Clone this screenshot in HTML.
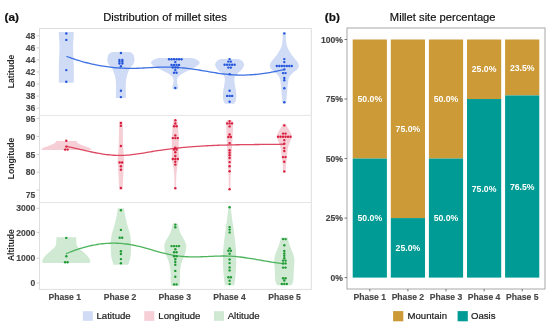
<!DOCTYPE html>
<html><head><meta charset="utf-8"><style>
html,body{margin:0;padding:0;background:#fff;width:550px;height:329px;overflow:hidden}
svg{display:block}
text{font-family:"Liberation Sans",Arial,sans-serif}
</style></head><body>
<svg width="550" height="329" viewBox="0 0 550 329">
<rect width="550" height="329" fill="#fff"/>
<g fill="#111" stroke="#111" stroke-width="0.2">
<text x="4.6" y="20.7" font-size="11.8" font-weight="700">(a)</text>
<text x="165" y="20.8" font-size="11.2" text-anchor="middle">Distribution of millet sites</text>
<text x="324.8" y="20.7" font-size="11.8" font-weight="700">(b)</text>
<text x="442.7" y="20.8" font-size="11.2" text-anchor="middle">Millet site percentage</text>
</g>
<g fill="#d0dbf6"><path d="M73.60,32.00 L73.73,32.50 L73.80,33.00 L73.80,33.50 L73.78,34.00 L73.77,34.50 L73.75,35.00 L73.72,35.50 L73.70,36.00 L73.67,36.50 L73.64,37.00 L73.60,37.50 L73.56,38.00 L73.51,38.50 L73.47,39.00 L73.43,39.50 L73.40,40.00 L73.37,40.50 L73.34,41.00 L73.30,41.50 L73.27,42.00 L73.24,42.50 L73.21,43.00 L73.18,43.50 L73.16,44.00 L73.14,44.50 L73.12,45.00 L73.11,45.50 L73.10,46.00 L73.10,46.50 L73.10,47.00 L73.11,47.50 L73.11,48.00 L73.12,48.50 L73.13,49.00 L73.14,49.50 L73.15,50.00 L73.16,50.50 L73.17,51.00 L73.19,51.50 L73.20,52.00 L73.22,52.50 L73.23,53.00 L73.26,53.50 L73.28,54.00 L73.31,54.50 L73.34,55.00 L73.37,55.50 L73.40,56.00 L73.43,56.50 L73.46,57.00 L73.48,57.50 L73.50,58.00 L73.52,58.50 L73.54,59.00 L73.55,59.50 L73.57,60.00 L73.59,60.50 L73.60,61.00 L73.62,61.50 L73.63,62.00 L73.65,62.50 L73.66,63.00 L73.67,63.50 L73.68,64.00 L73.69,64.50 L73.70,65.00 L73.71,65.50 L73.72,66.00 L73.72,66.50 L73.73,67.00 L73.74,67.50 L73.74,68.00 L73.75,68.50 L73.76,69.00 L73.76,69.50 L73.77,70.00 L73.77,70.50 L73.78,71.00 L73.78,71.50 L73.79,72.00 L73.79,72.50 L73.79,73.00 L73.80,73.50 L73.80,74.00 L73.80,74.50 L73.80,75.00 L73.80,75.50 L73.80,76.00 L73.80,76.50 L73.80,77.00 L73.80,77.50 L73.80,78.00 L73.80,78.50 L73.80,79.00 L73.80,79.50 L73.80,80.00 L73.80,80.50 L73.80,81.00 L73.80,81.50 L73.72,82.00 L73.56,82.50 L73.50,82.70 L59.10,82.70 L59.04,82.50 L58.88,82.00 L58.80,81.50 L58.80,81.00 L58.80,80.50 L58.80,80.00 L58.80,79.50 L58.80,79.00 L58.80,78.50 L58.80,78.00 L58.80,77.50 L58.80,77.00 L58.80,76.50 L58.80,76.00 L58.80,75.50 L58.80,75.00 L58.80,74.50 L58.80,74.00 L58.80,73.50 L58.81,73.00 L58.81,72.50 L58.81,72.00 L58.82,71.50 L58.82,71.00 L58.83,70.50 L58.83,70.00 L58.84,69.50 L58.84,69.00 L58.85,68.50 L58.86,68.00 L58.86,67.50 L58.87,67.00 L58.88,66.50 L58.88,66.00 L58.89,65.50 L58.90,65.00 L58.91,64.50 L58.92,64.00 L58.93,63.50 L58.94,63.00 L58.95,62.50 L58.97,62.00 L58.98,61.50 L59.00,61.00 L59.01,60.50 L59.03,60.00 L59.05,59.50 L59.06,59.00 L59.08,58.50 L59.10,58.00 L59.12,57.50 L59.14,57.00 L59.17,56.50 L59.20,56.00 L59.23,55.50 L59.26,55.00 L59.29,54.50 L59.32,54.00 L59.34,53.50 L59.37,53.00 L59.38,52.50 L59.40,52.00 L59.41,51.50 L59.43,51.00 L59.44,50.50 L59.45,50.00 L59.46,49.50 L59.47,49.00 L59.48,48.50 L59.49,48.00 L59.49,47.50 L59.50,47.00 L59.50,46.50 L59.50,46.00 L59.49,45.50 L59.48,45.00 L59.46,44.50 L59.44,44.00 L59.42,43.50 L59.39,43.00 L59.36,42.50 L59.33,42.00 L59.30,41.50 L59.26,41.00 L59.23,40.50 L59.20,40.00 L59.17,39.50 L59.13,39.00 L59.09,38.50 L59.04,38.00 L59.00,37.50 L58.96,37.00 L58.93,36.50 L58.90,36.00 L58.88,35.50 L58.85,35.00 L58.83,34.50 L58.82,34.00 L58.80,33.50 L58.80,33.00 L58.87,32.50 L59.00,32.00 Z"/><path d="M129.70,52.10 L130.84,52.60 L131.66,53.10 L132.31,53.60 L132.78,54.10 L133.17,54.60 L133.50,55.10 L133.76,55.60 L133.93,56.10 L134.05,56.60 L134.16,57.10 L134.27,57.60 L134.35,58.10 L134.42,58.60 L134.47,59.10 L134.50,59.60 L134.50,60.10 L134.46,60.60 L134.38,61.10 L134.28,61.60 L134.16,62.10 L134.02,62.60 L133.87,63.10 L133.66,63.60 L133.39,64.10 L133.07,64.60 L132.73,65.10 L132.28,65.60 L131.78,66.10 L131.31,66.60 L130.89,67.10 L130.48,67.60 L130.13,68.10 L129.83,68.60 L129.55,69.10 L129.29,69.60 L129.05,70.10 L128.83,70.60 L128.62,71.10 L128.42,71.60 L128.23,72.10 L128.04,72.60 L127.86,73.10 L127.69,73.60 L127.52,74.10 L127.36,74.60 L127.20,75.10 L127.06,75.60 L126.92,76.10 L126.80,76.60 L126.68,77.10 L126.57,77.60 L126.46,78.10 L126.36,78.60 L126.26,79.10 L126.18,79.60 L126.12,80.10 L126.07,80.60 L126.02,81.10 L125.98,81.60 L125.94,82.10 L125.90,82.60 L125.86,83.10 L125.84,83.60 L125.82,84.10 L125.80,84.60 L125.80,85.10 L125.80,85.60 L125.80,86.10 L125.80,86.60 L125.80,87.10 L125.80,87.60 L125.80,88.10 L125.80,88.60 L125.80,89.10 L125.80,89.60 L125.80,90.10 L125.80,90.60 L125.80,91.10 L125.81,91.60 L125.82,92.10 L125.84,92.60 L125.86,93.10 L125.88,93.60 L125.89,94.10 L125.90,94.60 L125.90,95.10 L125.90,95.60 L125.90,96.10 L125.90,96.60 L125.90,97.10 L125.90,97.60 L125.90,97.90 L115.90,97.90 L115.90,97.60 L115.90,97.10 L115.90,96.60 L115.90,96.10 L115.90,95.60 L115.90,95.10 L115.90,94.60 L115.91,94.10 L115.92,93.60 L115.94,93.10 L115.96,92.60 L115.98,92.10 L115.99,91.60 L116.00,91.10 L116.00,90.60 L116.00,90.10 L116.00,89.60 L116.00,89.10 L116.00,88.60 L116.00,88.10 L116.00,87.60 L116.00,87.10 L116.00,86.60 L116.00,86.10 L116.00,85.60 L116.00,85.10 L116.00,84.60 L115.98,84.10 L115.96,83.60 L115.94,83.10 L115.90,82.60 L115.86,82.10 L115.82,81.60 L115.78,81.10 L115.73,80.60 L115.68,80.10 L115.62,79.60 L115.54,79.10 L115.44,78.60 L115.34,78.10 L115.23,77.60 L115.12,77.10 L115.00,76.60 L114.88,76.10 L114.74,75.60 L114.60,75.10 L114.44,74.60 L114.28,74.10 L114.11,73.60 L113.94,73.10 L113.76,72.60 L113.57,72.10 L113.38,71.60 L113.18,71.10 L112.97,70.60 L112.75,70.10 L112.51,69.60 L112.25,69.10 L111.97,68.60 L111.67,68.10 L111.32,67.60 L110.91,67.10 L110.49,66.60 L110.02,66.10 L109.52,65.60 L109.07,65.10 L108.73,64.60 L108.41,64.10 L108.14,63.60 L107.93,63.10 L107.78,62.60 L107.64,62.10 L107.52,61.60 L107.42,61.10 L107.34,60.60 L107.30,60.10 L107.30,59.60 L107.33,59.10 L107.38,58.60 L107.45,58.10 L107.53,57.60 L107.64,57.10 L107.75,56.60 L107.87,56.10 L108.04,55.60 L108.30,55.10 L108.63,54.60 L109.02,54.10 L109.49,53.60 L110.14,53.10 L110.96,52.60 L112.10,52.10 Z"/><path d="M192.30,58.00 L193.94,58.50 L195.30,59.00 L196.43,59.50 L197.39,60.00 L198.10,60.50 L198.63,61.00 L199.11,61.50 L199.48,62.00 L199.68,62.50 L199.66,63.00 L199.43,63.50 L199.05,64.00 L198.58,64.50 L198.10,65.00 L197.55,65.50 L196.86,66.00 L196.07,66.50 L195.22,67.00 L194.33,67.50 L193.44,68.00 L192.46,68.50 L191.41,69.00 L190.34,69.50 L189.30,70.00 L188.28,70.50 L187.26,71.00 L186.25,71.50 L185.26,72.00 L184.30,72.50 L183.36,73.00 L182.44,73.50 L181.60,74.00 L180.88,74.50 L180.22,75.00 L179.63,75.50 L179.10,76.00 L178.59,76.50 L178.14,77.00 L177.80,77.50 L177.54,78.00 L177.30,78.50 L177.15,79.00 L177.10,79.50 L177.10,80.00 L177.10,80.50 L177.10,81.00 L177.10,81.50 L177.10,82.00 L177.14,82.50 L177.24,83.00 L177.37,83.50 L177.50,84.00 L177.64,84.50 L177.81,85.00 L177.98,85.50 L178.10,86.00 L178.20,86.50 L178.28,87.00 L178.30,87.50 L178.23,88.00 L178.10,88.50 L177.84,89.00 L177.70,89.20 L172.90,89.20 L172.76,89.00 L172.50,88.50 L172.37,88.00 L172.30,87.50 L172.32,87.00 L172.40,86.50 L172.50,86.00 L172.62,85.50 L172.79,85.00 L172.96,84.50 L173.10,84.00 L173.23,83.50 L173.36,83.00 L173.46,82.50 L173.50,82.00 L173.50,81.50 L173.50,81.00 L173.50,80.50 L173.50,80.00 L173.50,79.50 L173.45,79.00 L173.30,78.50 L173.06,78.00 L172.80,77.50 L172.46,77.00 L172.01,76.50 L171.50,76.00 L170.97,75.50 L170.38,75.00 L169.72,74.50 L169.00,74.00 L168.16,73.50 L167.24,73.00 L166.30,72.50 L165.34,72.00 L164.35,71.50 L163.34,71.00 L162.32,70.50 L161.30,70.00 L160.26,69.50 L159.19,69.00 L158.14,68.50 L157.16,68.00 L156.27,67.50 L155.38,67.00 L154.53,66.50 L153.74,66.00 L153.05,65.50 L152.50,65.00 L152.02,64.50 L151.55,64.00 L151.17,63.50 L150.94,63.00 L150.92,62.50 L151.12,62.00 L151.49,61.50 L151.97,61.00 L152.50,60.50 L153.21,60.00 L154.17,59.50 L155.30,59.00 L156.66,58.50 L158.30,58.00 Z"/><path d="M238.10,59.10 L239.66,59.60 L240.78,60.10 L241.58,60.60 L242.21,61.10 L242.68,61.60 L243.08,62.10 L243.42,62.60 L243.68,63.10 L243.82,63.60 L243.91,64.10 L243.98,64.60 L244.00,65.10 L243.95,65.60 L243.81,66.10 L243.61,66.60 L243.38,67.10 L243.15,67.60 L242.88,68.10 L242.55,68.60 L242.17,69.10 L241.77,69.60 L241.33,70.10 L240.83,70.60 L240.29,71.10 L239.70,71.60 L239.08,72.10 L238.48,72.60 L237.89,73.10 L237.32,73.60 L236.80,74.10 L236.33,74.60 L235.89,75.10 L235.53,75.60 L235.22,76.10 L234.95,76.60 L234.77,77.10 L234.63,77.60 L234.50,78.10 L234.41,78.60 L234.35,79.10 L234.35,79.60 L234.37,80.10 L234.40,80.60 L234.43,81.10 L234.47,81.60 L234.51,82.10 L234.56,82.60 L234.62,83.10 L234.68,83.60 L234.76,84.10 L234.84,84.60 L234.92,85.10 L235.00,85.60 L235.08,86.10 L235.18,86.60 L235.27,87.10 L235.38,87.60 L235.48,88.10 L235.57,88.60 L235.66,89.10 L235.74,89.60 L235.81,90.10 L235.88,90.60 L235.95,91.10 L236.01,91.60 L236.08,92.10 L236.14,92.60 L236.19,93.10 L236.24,93.60 L236.27,94.10 L236.29,94.60 L236.30,95.10 L236.30,95.60 L236.28,96.10 L236.27,96.60 L236.24,97.10 L236.21,97.60 L236.17,98.10 L236.13,98.60 L236.09,99.10 L236.02,99.60 L235.92,100.10 L235.79,100.60 L235.64,101.10 L235.46,101.60 L235.22,102.10 L234.90,102.60 L234.52,103.10 L234.02,103.60 L233.80,103.80 L225.40,103.80 L225.18,103.60 L224.68,103.10 L224.30,102.60 L223.98,102.10 L223.74,101.60 L223.56,101.10 L223.41,100.60 L223.28,100.10 L223.18,99.60 L223.11,99.10 L223.07,98.60 L223.03,98.10 L222.99,97.60 L222.96,97.10 L222.93,96.60 L222.92,96.10 L222.90,95.60 L222.90,95.10 L222.91,94.60 L222.93,94.10 L222.96,93.60 L223.01,93.10 L223.06,92.60 L223.12,92.10 L223.19,91.60 L223.25,91.10 L223.32,90.60 L223.39,90.10 L223.46,89.60 L223.54,89.10 L223.63,88.60 L223.72,88.10 L223.82,87.60 L223.93,87.10 L224.02,86.60 L224.12,86.10 L224.20,85.60 L224.28,85.10 L224.36,84.60 L224.44,84.10 L224.52,83.60 L224.58,83.10 L224.64,82.60 L224.69,82.10 L224.73,81.60 L224.77,81.10 L224.80,80.60 L224.83,80.10 L224.85,79.60 L224.85,79.10 L224.79,78.60 L224.70,78.10 L224.57,77.60 L224.43,77.10 L224.25,76.60 L223.98,76.10 L223.67,75.60 L223.31,75.10 L222.87,74.60 L222.40,74.10 L221.88,73.60 L221.31,73.10 L220.72,72.60 L220.12,72.10 L219.50,71.60 L218.91,71.10 L218.37,70.60 L217.87,70.10 L217.43,69.60 L217.03,69.10 L216.65,68.60 L216.32,68.10 L216.05,67.60 L215.82,67.10 L215.59,66.60 L215.39,66.10 L215.25,65.60 L215.20,65.10 L215.22,64.60 L215.29,64.10 L215.38,63.60 L215.52,63.10 L215.78,62.60 L216.12,62.10 L216.52,61.60 L216.99,61.10 L217.62,60.60 L218.42,60.10 L219.54,59.60 L221.10,59.10 Z"/><path d="M286.10,32.40 L286.05,32.90 L286.01,33.40 L285.98,33.90 L285.95,34.40 L285.92,34.90 L285.91,35.40 L285.90,35.90 L285.90,36.40 L285.91,36.90 L285.92,37.40 L285.94,37.90 L285.96,38.40 L285.99,38.90 L286.02,39.40 L286.06,39.90 L286.10,40.40 L286.14,40.90 L286.19,41.40 L286.23,41.90 L286.28,42.40 L286.33,42.90 L286.40,43.40 L286.49,43.90 L286.60,44.40 L286.71,44.90 L286.84,45.40 L286.97,45.90 L287.12,46.40 L287.30,46.90 L287.50,47.40 L287.73,47.90 L287.96,48.40 L288.20,48.90 L288.46,49.40 L288.74,49.90 L289.03,50.40 L289.34,50.90 L289.64,51.40 L289.94,51.90 L290.24,52.40 L290.55,52.90 L290.87,53.40 L291.19,53.90 L291.52,54.40 L291.87,54.90 L292.23,55.40 L292.62,55.90 L293.01,56.40 L293.41,56.90 L293.81,57.40 L294.22,57.90 L294.63,58.40 L295.06,58.90 L295.50,59.40 L295.94,59.90 L296.35,60.40 L296.73,60.90 L297.08,61.40 L297.43,61.90 L297.76,62.40 L298.05,62.90 L298.27,63.40 L298.43,63.90 L298.59,64.40 L298.71,64.90 L298.79,65.40 L298.79,65.90 L298.71,66.40 L298.56,66.90 L298.37,67.40 L298.15,67.90 L297.87,68.40 L297.47,68.90 L296.99,69.40 L296.46,69.90 L295.91,70.40 L295.33,70.90 L294.67,71.40 L293.98,71.90 L293.30,72.40 L292.71,72.90 L292.19,73.40 L291.69,73.90 L291.20,74.40 L290.75,74.90 L290.33,75.40 L289.97,75.90 L289.65,76.40 L289.41,76.90 L289.19,77.40 L288.99,77.90 L288.82,78.40 L288.66,78.90 L288.53,79.40 L288.42,79.90 L288.33,80.40 L288.24,80.90 L288.16,81.40 L288.09,81.90 L288.03,82.40 L287.96,82.90 L287.91,83.40 L287.85,83.90 L287.80,84.40 L287.75,84.90 L287.70,85.40 L287.65,85.90 L287.60,86.40 L287.55,86.90 L287.50,87.40 L287.45,87.90 L287.41,88.40 L287.36,88.90 L287.32,89.40 L287.27,89.90 L287.23,90.40 L287.19,90.90 L287.15,91.40 L287.11,91.90 L287.07,92.40 L287.03,92.90 L287.00,93.40 L286.97,93.90 L286.93,94.40 L286.90,94.90 L286.86,95.40 L286.82,95.90 L286.77,96.40 L286.71,96.90 L286.64,97.40 L286.57,97.90 L286.49,98.40 L286.42,98.90 L286.36,99.40 L286.31,99.90 L286.27,100.40 L286.23,100.90 L286.20,101.40 L286.17,101.90 L286.14,102.40 L286.12,102.90 L286.10,103.40 L282.50,103.40 L282.48,102.90 L282.46,102.40 L282.43,101.90 L282.40,101.40 L282.37,100.90 L282.33,100.40 L282.29,99.90 L282.24,99.40 L282.18,98.90 L282.11,98.40 L282.03,97.90 L281.96,97.40 L281.89,96.90 L281.83,96.40 L281.78,95.90 L281.74,95.40 L281.70,94.90 L281.67,94.40 L281.63,93.90 L281.60,93.40 L281.57,92.90 L281.53,92.40 L281.49,91.90 L281.45,91.40 L281.41,90.90 L281.37,90.40 L281.33,89.90 L281.28,89.40 L281.24,88.90 L281.19,88.40 L281.15,87.90 L281.10,87.40 L281.05,86.90 L281.00,86.40 L280.95,85.90 L280.90,85.40 L280.85,84.90 L280.80,84.40 L280.75,83.90 L280.69,83.40 L280.64,82.90 L280.57,82.40 L280.51,81.90 L280.44,81.40 L280.36,80.90 L280.27,80.40 L280.18,79.90 L280.07,79.40 L279.94,78.90 L279.78,78.40 L279.61,77.90 L279.41,77.40 L279.19,76.90 L278.95,76.40 L278.63,75.90 L278.27,75.40 L277.85,74.90 L277.40,74.40 L276.91,73.90 L276.41,73.40 L275.89,72.90 L275.30,72.40 L274.62,71.90 L273.93,71.40 L273.27,70.90 L272.69,70.40 L272.14,69.90 L271.61,69.40 L271.13,68.90 L270.73,68.40 L270.45,67.90 L270.23,67.40 L270.04,66.90 L269.89,66.40 L269.81,65.90 L269.81,65.40 L269.89,64.90 L270.01,64.40 L270.17,63.90 L270.33,63.40 L270.55,62.90 L270.84,62.40 L271.17,61.90 L271.52,61.40 L271.87,60.90 L272.25,60.40 L272.66,59.90 L273.10,59.40 L273.54,58.90 L273.97,58.40 L274.38,57.90 L274.79,57.40 L275.19,56.90 L275.59,56.40 L275.98,55.90 L276.37,55.40 L276.73,54.90 L277.08,54.40 L277.41,53.90 L277.73,53.40 L278.05,52.90 L278.36,52.40 L278.66,51.90 L278.96,51.40 L279.26,50.90 L279.57,50.40 L279.86,49.90 L280.14,49.40 L280.40,48.90 L280.64,48.40 L280.87,47.90 L281.10,47.40 L281.30,46.90 L281.48,46.40 L281.63,45.90 L281.76,45.40 L281.89,44.90 L282.00,44.40 L282.11,43.90 L282.20,43.40 L282.27,42.90 L282.32,42.40 L282.37,41.90 L282.41,41.40 L282.46,40.90 L282.50,40.40 L282.54,39.90 L282.58,39.40 L282.61,38.90 L282.64,38.40 L282.66,37.90 L282.68,37.40 L282.69,36.90 L282.70,36.40 L282.70,35.90 L282.69,35.40 L282.68,34.90 L282.65,34.40 L282.62,33.90 L282.59,33.40 L282.55,32.90 L282.50,32.40 Z"/></g>
<path d="M66.50,56.32 L68.33,57.01 L70.16,57.68 L71.99,58.32 L73.82,58.95 L75.65,59.56 L77.48,60.14 L79.31,60.70 L81.14,61.25 L82.97,61.77 L84.80,62.27 L86.63,62.75 L88.46,63.21 L90.29,63.65 L92.12,64.07 L93.95,64.47 L95.78,64.85 L97.61,65.21 L99.44,65.55 L101.27,65.87 L103.11,66.17 L104.94,66.46 L106.77,66.72 L108.60,66.96 L110.43,67.18 L112.26,67.38 L114.09,67.57 L115.92,67.73 L117.75,67.88 L119.58,68.01 L121.41,68.11 L123.24,68.20 L125.07,68.27 L126.90,68.32 L128.73,68.36 L130.56,68.37 L132.39,68.37 L134.22,68.35 L136.05,68.31 L137.88,68.25 L139.71,68.18 L141.54,68.10 L143.37,68.00 L145.20,67.91 L147.03,67.80 L148.86,67.70 L150.69,67.60 L152.52,67.50 L154.35,67.41 L156.18,67.33 L158.01,67.26 L159.84,67.20 L161.67,67.16 L163.50,67.14 L165.33,67.13 L167.16,67.15 L168.99,67.17 L170.82,67.22 L172.65,67.28 L174.48,67.36 L176.32,67.46 L178.15,67.58 L179.98,67.71 L181.81,67.86 L183.64,68.02 L185.47,68.21 L187.30,68.41 L189.13,68.63 L190.96,68.86 L192.79,69.11 L194.62,69.38 L196.45,69.66 L198.28,69.95 L200.11,70.25 L201.94,70.55 L203.77,70.86 L205.60,71.17 L207.43,71.48 L209.26,71.80 L211.09,72.10 L212.92,72.41 L214.75,72.70 L216.58,72.99 L218.41,73.27 L220.24,73.53 L222.07,73.78 L223.90,74.01 L225.73,74.22 L227.56,74.42 L229.39,74.59 L231.22,74.73 L233.05,74.85 L234.88,74.95 L236.71,75.02 L238.54,75.07 L240.37,75.10 L242.20,75.10 L244.03,75.08 L245.86,75.03 L247.69,74.97 L249.53,74.88 L251.36,74.77 L253.19,74.64 L255.02,74.49 L256.85,74.31 L258.68,74.12 L260.51,73.90 L262.34,73.67 L264.17,73.42 L266.00,73.14 L267.83,72.85 L269.66,72.54 L271.49,72.21 L273.32,71.86 L275.15,71.49 L276.98,71.10 L278.81,70.70 L280.64,70.28 L282.47,69.84 L284.30,69.39" fill="none" stroke="#3d70e2" stroke-width="1.3"/>
<g fill="#2456dc"><circle cx="66.30" cy="33.50" r="1.2"/><circle cx="66.30" cy="39.90" r="1.2"/><circle cx="66.30" cy="70.10" r="1.2"/><circle cx="66.30" cy="81.70" r="1.2"/></g><g fill="#2456dc"><circle cx="120.90" cy="53.00" r="1.2"/><circle cx="119.45" cy="59.90" r="1.2"/><circle cx="122.35" cy="59.90" r="1.2"/><circle cx="119.45" cy="61.75" r="1.2"/><circle cx="122.35" cy="61.75" r="1.2"/><circle cx="119.45" cy="63.60" r="1.2"/><circle cx="122.35" cy="63.60" r="1.2"/><circle cx="120.90" cy="66.30" r="1.2"/><circle cx="120.90" cy="90.70" r="1.2"/><circle cx="120.90" cy="97.10" r="1.2"/></g><g fill="#2456dc"><circle cx="169.05" cy="59.20" r="1.2"/><circle cx="171.55" cy="59.20" r="1.2"/><circle cx="174.05" cy="59.20" r="1.2"/><circle cx="176.55" cy="59.20" r="1.2"/><circle cx="179.05" cy="59.20" r="1.2"/><circle cx="181.55" cy="59.20" r="1.2"/><circle cx="175.30" cy="62.10" r="1.2"/><circle cx="171.55" cy="65.00" r="1.2"/><circle cx="174.05" cy="65.00" r="1.2"/><circle cx="176.55" cy="65.00" r="1.2"/><circle cx="179.05" cy="65.00" r="1.2"/><circle cx="172.80" cy="67.50" r="1.2"/><circle cx="175.30" cy="67.50" r="1.2"/><circle cx="177.80" cy="67.50" r="1.2"/><circle cx="175.30" cy="70.10" r="1.2"/><circle cx="174.05" cy="72.70" r="1.2"/><circle cx="176.55" cy="72.70" r="1.2"/><circle cx="175.30" cy="88.00" r="1.2"/></g><g fill="#2456dc"><circle cx="229.60" cy="59.10" r="1.2"/><circle cx="228.35" cy="61.60" r="1.2"/><circle cx="230.85" cy="61.60" r="1.2"/><circle cx="224.60" cy="64.70" r="1.2"/><circle cx="227.10" cy="64.70" r="1.2"/><circle cx="229.60" cy="64.70" r="1.2"/><circle cx="232.10" cy="64.70" r="1.2"/><circle cx="234.60" cy="64.70" r="1.2"/><circle cx="228.35" cy="67.60" r="1.2"/><circle cx="230.85" cy="67.60" r="1.2"/><circle cx="229.60" cy="74.10" r="1.2"/><circle cx="229.60" cy="90.70" r="1.2"/><circle cx="227.10" cy="95.90" r="1.2"/><circle cx="229.60" cy="95.90" r="1.2"/><circle cx="232.10" cy="95.90" r="1.2"/><circle cx="229.60" cy="101.70" r="1.2"/></g><g fill="#2456dc"><circle cx="284.30" cy="33.40" r="1.2"/><circle cx="284.30" cy="59.10" r="1.2"/><circle cx="284.30" cy="62.10" r="1.2"/><circle cx="276.80" cy="66.00" r="1.2"/><circle cx="279.30" cy="66.00" r="1.2"/><circle cx="281.80" cy="66.00" r="1.2"/><circle cx="284.30" cy="66.00" r="1.2"/><circle cx="286.80" cy="66.00" r="1.2"/><circle cx="289.30" cy="66.00" r="1.2"/><circle cx="291.80" cy="66.00" r="1.2"/><circle cx="284.30" cy="69.40" r="1.2"/><circle cx="283.05" cy="73.10" r="1.2"/><circle cx="285.55" cy="73.10" r="1.2"/><circle cx="284.30" cy="77.90" r="1.2"/><circle cx="284.30" cy="80.30" r="1.2"/><circle cx="284.30" cy="88.30" r="1.2"/><circle cx="284.30" cy="102.20" r="1.2"/></g>
<g fill="#f6ced5"><path d="M76.60,140.90 L76.69,141.40 L76.92,141.90 L77.23,142.40 L77.71,142.90 L78.52,143.40 L79.52,143.90 L80.59,144.40 L81.69,144.90 L82.94,145.40 L84.26,145.90 L85.55,146.40 L86.89,146.90 L88.38,147.40 L89.71,147.90 L90.53,148.40 L90.81,148.90 L91.01,149.40 L91.10,149.90 L91.10,150.00 L41.50,150.00 L41.50,149.90 L41.59,149.40 L41.79,148.90 L42.07,148.40 L42.89,147.90 L44.22,147.40 L45.71,146.90 L47.05,146.40 L48.34,145.90 L49.66,145.40 L50.91,144.90 L52.01,144.40 L53.08,143.90 L54.08,143.40 L54.89,142.90 L55.37,142.40 L55.68,141.90 L55.91,141.40 L56.00,140.90 Z"/><path d="M122.40,121.60 L122.45,122.10 L122.51,122.60 L122.56,123.10 L122.61,123.60 L122.65,124.10 L122.68,124.60 L122.70,125.10 L122.72,125.60 L122.74,126.10 L122.75,126.60 L122.76,127.10 L122.78,127.60 L122.79,128.10 L122.80,128.60 L122.81,129.10 L122.81,129.60 L122.82,130.10 L122.83,130.60 L122.84,131.10 L122.84,131.60 L122.85,132.10 L122.86,132.60 L122.87,133.10 L122.87,133.60 L122.88,134.10 L122.89,134.60 L122.90,135.10 L122.91,135.60 L122.92,136.10 L122.93,136.60 L122.94,137.10 L122.95,137.60 L122.96,138.10 L122.96,138.60 L122.97,139.10 L122.98,139.60 L122.99,140.10 L123.00,140.60 L123.01,141.10 L123.02,141.60 L123.03,142.10 L123.04,142.60 L123.05,143.10 L123.06,143.60 L123.07,144.10 L123.09,144.60 L123.10,145.10 L123.12,145.60 L123.14,146.10 L123.16,146.60 L123.19,147.10 L123.21,147.60 L123.24,148.10 L123.27,148.60 L123.30,149.10 L123.33,149.60 L123.37,150.10 L123.40,150.60 L123.44,151.10 L123.47,151.60 L123.51,152.10 L123.54,152.60 L123.58,153.10 L123.61,153.60 L123.64,154.10 L123.68,154.60 L123.71,155.10 L123.74,155.60 L123.78,156.10 L123.82,156.60 L123.86,157.10 L123.90,157.60 L123.94,158.10 L123.98,158.60 L124.01,159.10 L124.04,159.60 L124.07,160.10 L124.09,160.60 L124.10,161.10 L124.10,161.60 L124.09,162.10 L124.08,162.60 L124.06,163.10 L124.03,163.60 L124.00,164.10 L123.96,164.60 L123.92,165.10 L123.88,165.60 L123.84,166.10 L123.80,166.60 L123.76,167.10 L123.73,167.60 L123.69,168.10 L123.66,168.60 L123.63,169.10 L123.61,169.60 L123.58,170.10 L123.55,170.60 L123.52,171.10 L123.49,171.60 L123.46,172.10 L123.43,172.60 L123.40,173.10 L123.38,173.60 L123.35,174.10 L123.32,174.60 L123.29,175.10 L123.27,175.60 L123.24,176.10 L123.22,176.60 L123.19,177.10 L123.17,177.60 L123.14,178.10 L123.12,178.60 L123.10,179.10 L123.07,179.60 L123.05,180.10 L123.02,180.60 L123.00,181.10 L122.97,181.60 L122.95,182.10 L122.92,182.60 L122.89,183.10 L122.87,183.60 L122.84,184.10 L122.81,184.60 L122.78,185.10 L122.75,185.60 L122.73,186.10 L122.70,186.60 L122.67,187.10 L122.64,187.60 L122.61,188.10 L122.57,188.60 L122.54,189.10 L122.51,189.60 L122.50,189.80 L119.30,189.80 L119.29,189.60 L119.26,189.10 L119.23,188.60 L119.19,188.10 L119.16,187.60 L119.13,187.10 L119.10,186.60 L119.07,186.10 L119.05,185.60 L119.02,185.10 L118.99,184.60 L118.96,184.10 L118.93,183.60 L118.91,183.10 L118.88,182.60 L118.85,182.10 L118.83,181.60 L118.80,181.10 L118.78,180.60 L118.75,180.10 L118.73,179.60 L118.70,179.10 L118.68,178.60 L118.66,178.10 L118.63,177.60 L118.61,177.10 L118.58,176.60 L118.56,176.10 L118.53,175.60 L118.51,175.10 L118.48,174.60 L118.45,174.10 L118.42,173.60 L118.40,173.10 L118.37,172.60 L118.34,172.10 L118.31,171.60 L118.28,171.10 L118.25,170.60 L118.22,170.10 L118.19,169.60 L118.17,169.10 L118.14,168.60 L118.11,168.10 L118.07,167.60 L118.04,167.10 L118.00,166.60 L117.96,166.10 L117.92,165.60 L117.88,165.10 L117.84,164.60 L117.80,164.10 L117.77,163.60 L117.74,163.10 L117.72,162.60 L117.71,162.10 L117.70,161.60 L117.70,161.10 L117.71,160.60 L117.73,160.10 L117.76,159.60 L117.79,159.10 L117.82,158.60 L117.86,158.10 L117.90,157.60 L117.94,157.10 L117.98,156.60 L118.02,156.10 L118.06,155.60 L118.09,155.10 L118.12,154.60 L118.16,154.10 L118.19,153.60 L118.22,153.10 L118.26,152.60 L118.29,152.10 L118.33,151.60 L118.36,151.10 L118.40,150.60 L118.43,150.10 L118.47,149.60 L118.50,149.10 L118.53,148.60 L118.56,148.10 L118.59,147.60 L118.61,147.10 L118.64,146.60 L118.66,146.10 L118.68,145.60 L118.70,145.10 L118.71,144.60 L118.73,144.10 L118.74,143.60 L118.75,143.10 L118.76,142.60 L118.77,142.10 L118.78,141.60 L118.79,141.10 L118.80,140.60 L118.81,140.10 L118.82,139.60 L118.83,139.10 L118.84,138.60 L118.84,138.10 L118.85,137.60 L118.86,137.10 L118.87,136.60 L118.88,136.10 L118.89,135.60 L118.90,135.10 L118.91,134.60 L118.92,134.10 L118.93,133.60 L118.93,133.10 L118.94,132.60 L118.95,132.10 L118.96,131.60 L118.96,131.10 L118.97,130.60 L118.98,130.10 L118.99,129.60 L118.99,129.10 L119.00,128.60 L119.01,128.10 L119.02,127.60 L119.04,127.10 L119.05,126.60 L119.06,126.10 L119.08,125.60 L119.10,125.10 L119.12,124.60 L119.15,124.10 L119.19,123.60 L119.24,123.10 L119.29,122.60 L119.35,122.10 L119.40,121.60 Z"/><path d="M176.80,119.60 L176.97,120.10 L177.13,120.60 L177.28,121.10 L177.41,121.60 L177.52,122.10 L177.62,122.60 L177.72,123.10 L177.81,123.60 L177.89,124.10 L177.96,124.60 L178.02,125.10 L178.07,125.60 L178.11,126.10 L178.13,126.60 L178.15,127.10 L178.17,127.60 L178.18,128.10 L178.20,128.60 L178.21,129.10 L178.22,129.60 L178.23,130.10 L178.25,130.60 L178.26,131.10 L178.28,131.60 L178.31,132.10 L178.34,132.60 L178.39,133.10 L178.45,133.60 L178.51,134.10 L178.58,134.60 L178.65,135.10 L178.72,135.60 L178.78,136.10 L178.83,136.60 L178.87,137.10 L178.89,137.60 L178.90,138.10 L178.89,138.60 L178.88,139.10 L178.86,139.60 L178.84,140.10 L178.82,140.60 L178.80,141.10 L178.77,141.60 L178.75,142.10 L178.73,142.60 L178.71,143.10 L178.70,143.60 L178.70,144.10 L178.70,144.60 L178.70,145.10 L178.70,145.60 L178.70,146.10 L178.70,146.60 L178.70,147.10 L178.70,147.60 L178.70,148.10 L178.70,148.60 L178.70,149.10 L178.70,149.60 L178.70,150.10 L178.70,150.60 L178.70,151.10 L178.71,151.60 L178.72,152.10 L178.73,152.60 L178.75,153.10 L178.76,153.60 L178.78,154.10 L178.80,154.60 L178.82,155.10 L178.83,155.60 L178.85,156.10 L178.87,156.60 L178.88,157.10 L178.89,157.60 L178.90,158.10 L178.90,158.60 L178.89,159.10 L178.85,159.60 L178.79,160.10 L178.70,160.60 L178.60,161.10 L178.49,161.60 L178.36,162.10 L178.23,162.60 L178.09,163.10 L177.96,163.60 L177.83,164.10 L177.71,164.60 L177.61,165.10 L177.52,165.60 L177.44,166.10 L177.36,166.60 L177.29,167.10 L177.21,167.60 L177.14,168.10 L177.06,168.60 L176.99,169.10 L176.93,169.60 L176.86,170.10 L176.80,170.60 L176.74,171.10 L176.69,171.60 L176.63,172.10 L176.59,172.60 L176.54,173.10 L176.51,173.60 L176.47,174.10 L176.44,174.60 L176.41,175.10 L176.38,175.60 L176.35,176.10 L176.32,176.60 L176.30,177.10 L176.28,177.60 L176.26,178.10 L176.24,178.60 L176.22,179.10 L176.21,179.60 L176.20,180.10 L176.19,180.60 L176.18,181.10 L176.17,181.60 L176.16,182.10 L176.15,182.60 L176.15,183.10 L176.14,183.60 L176.13,184.10 L176.13,184.60 L176.12,185.10 L176.12,185.60 L176.11,186.10 L176.11,186.60 L176.10,187.10 L176.10,187.60 L176.10,188.10 L176.10,188.60 L176.10,188.80 L174.50,188.80 L174.50,188.60 L174.50,188.10 L174.50,187.60 L174.50,187.10 L174.49,186.60 L174.49,186.10 L174.48,185.60 L174.48,185.10 L174.47,184.60 L174.47,184.10 L174.46,183.60 L174.45,183.10 L174.45,182.60 L174.44,182.10 L174.43,181.60 L174.42,181.10 L174.41,180.60 L174.40,180.10 L174.39,179.60 L174.38,179.10 L174.36,178.60 L174.34,178.10 L174.32,177.60 L174.30,177.10 L174.28,176.60 L174.25,176.10 L174.22,175.60 L174.19,175.10 L174.16,174.60 L174.13,174.10 L174.09,173.60 L174.06,173.10 L174.01,172.60 L173.97,172.10 L173.91,171.60 L173.86,171.10 L173.80,170.60 L173.74,170.10 L173.67,169.60 L173.61,169.10 L173.54,168.60 L173.46,168.10 L173.39,167.60 L173.31,167.10 L173.24,166.60 L173.16,166.10 L173.08,165.60 L172.99,165.10 L172.89,164.60 L172.77,164.10 L172.64,163.60 L172.51,163.10 L172.37,162.60 L172.24,162.10 L172.11,161.60 L172.00,161.10 L171.90,160.60 L171.81,160.10 L171.75,159.60 L171.71,159.10 L171.70,158.60 L171.70,158.10 L171.71,157.60 L171.72,157.10 L171.73,156.60 L171.75,156.10 L171.77,155.60 L171.78,155.10 L171.80,154.60 L171.82,154.10 L171.84,153.60 L171.85,153.10 L171.87,152.60 L171.88,152.10 L171.89,151.60 L171.90,151.10 L171.90,150.60 L171.90,150.10 L171.90,149.60 L171.90,149.10 L171.90,148.60 L171.90,148.10 L171.90,147.60 L171.90,147.10 L171.90,146.60 L171.90,146.10 L171.90,145.60 L171.90,145.10 L171.90,144.60 L171.90,144.10 L171.90,143.60 L171.89,143.10 L171.87,142.60 L171.85,142.10 L171.83,141.60 L171.80,141.10 L171.78,140.60 L171.76,140.10 L171.74,139.60 L171.72,139.10 L171.71,138.60 L171.70,138.10 L171.71,137.60 L171.73,137.10 L171.77,136.60 L171.82,136.10 L171.88,135.60 L171.95,135.10 L172.02,134.60 L172.09,134.10 L172.15,133.60 L172.21,133.10 L172.26,132.60 L172.29,132.10 L172.32,131.60 L172.34,131.10 L172.35,130.60 L172.37,130.10 L172.38,129.60 L172.39,129.10 L172.40,128.60 L172.42,128.10 L172.43,127.60 L172.45,127.10 L172.47,126.60 L172.49,126.10 L172.53,125.60 L172.58,125.10 L172.64,124.60 L172.71,124.10 L172.79,123.60 L172.88,123.10 L172.98,122.60 L173.08,122.10 L173.19,121.60 L173.32,121.10 L173.47,120.60 L173.63,120.10 L173.80,119.60 Z"/><path d="M232.10,120.30 L232.30,120.80 L232.50,121.30 L232.68,121.80 L232.82,122.30 L232.89,122.80 L232.90,123.30 L232.90,123.80 L232.90,124.30 L232.90,124.80 L232.90,125.30 L232.90,125.80 L232.90,126.30 L232.90,126.80 L232.90,127.30 L232.90,127.80 L232.90,128.30 L232.90,128.80 L232.90,129.30 L232.90,129.80 L232.90,130.30 L232.89,130.80 L232.88,131.30 L232.87,131.80 L232.85,132.30 L232.83,132.80 L232.80,133.30 L232.78,133.80 L232.75,134.30 L232.72,134.80 L232.69,135.30 L232.67,135.80 L232.64,136.30 L232.61,136.80 L232.58,137.30 L232.56,137.80 L232.53,138.30 L232.49,138.80 L232.46,139.30 L232.43,139.80 L232.39,140.30 L232.35,140.80 L232.32,141.30 L232.28,141.80 L232.25,142.30 L232.22,142.80 L232.19,143.30 L232.16,143.80 L232.13,144.30 L232.11,144.80 L232.09,145.30 L232.07,145.80 L232.05,146.30 L232.03,146.80 L232.02,147.30 L232.00,147.80 L231.99,148.30 L231.98,148.80 L231.96,149.30 L231.95,149.80 L231.94,150.30 L231.93,150.80 L231.91,151.30 L231.90,151.80 L231.89,152.30 L231.87,152.80 L231.86,153.30 L231.84,153.80 L231.83,154.30 L231.81,154.80 L231.79,155.30 L231.77,155.80 L231.75,156.30 L231.73,156.80 L231.70,157.30 L231.68,157.80 L231.65,158.30 L231.63,158.80 L231.60,159.30 L231.58,159.80 L231.55,160.30 L231.52,160.80 L231.50,161.30 L231.47,161.80 L231.44,162.30 L231.41,162.80 L231.38,163.30 L231.35,163.80 L231.32,164.30 L231.29,164.80 L231.25,165.30 L231.21,165.80 L231.18,166.30 L231.14,166.80 L231.10,167.30 L231.07,167.80 L231.03,168.30 L231.00,168.80 L230.96,169.30 L230.93,169.80 L230.89,170.30 L230.86,170.80 L230.84,171.30 L230.81,171.80 L230.79,172.30 L230.76,172.80 L230.74,173.30 L230.71,173.80 L230.69,174.30 L230.67,174.80 L230.65,175.30 L230.63,175.80 L230.61,176.30 L230.59,176.80 L230.57,177.30 L230.55,177.80 L230.54,178.30 L230.52,178.80 L230.51,179.30 L230.50,179.80 L230.50,180.30 L230.49,180.80 L230.48,181.30 L230.47,181.80 L230.46,182.30 L230.46,182.80 L230.45,183.30 L230.44,183.80 L230.44,184.30 L230.43,184.80 L230.43,185.30 L230.42,185.80 L230.42,186.30 L230.41,186.80 L230.41,187.30 L230.41,187.80 L230.40,188.30 L230.40,188.80 L230.40,189.30 L230.40,189.80 L230.40,190.00 L228.80,190.00 L228.80,189.80 L228.80,189.30 L228.80,188.80 L228.80,188.30 L228.79,187.80 L228.79,187.30 L228.79,186.80 L228.78,186.30 L228.78,185.80 L228.77,185.30 L228.77,184.80 L228.76,184.30 L228.76,183.80 L228.75,183.30 L228.74,182.80 L228.74,182.30 L228.73,181.80 L228.72,181.30 L228.71,180.80 L228.70,180.30 L228.70,179.80 L228.69,179.30 L228.68,178.80 L228.66,178.30 L228.65,177.80 L228.63,177.30 L228.61,176.80 L228.59,176.30 L228.57,175.80 L228.55,175.30 L228.53,174.80 L228.51,174.30 L228.49,173.80 L228.46,173.30 L228.44,172.80 L228.41,172.30 L228.39,171.80 L228.36,171.30 L228.34,170.80 L228.31,170.30 L228.27,169.80 L228.24,169.30 L228.20,168.80 L228.17,168.30 L228.13,167.80 L228.10,167.30 L228.06,166.80 L228.02,166.30 L227.99,165.80 L227.95,165.30 L227.91,164.80 L227.88,164.30 L227.85,163.80 L227.82,163.30 L227.79,162.80 L227.76,162.30 L227.73,161.80 L227.70,161.30 L227.68,160.80 L227.65,160.30 L227.62,159.80 L227.60,159.30 L227.57,158.80 L227.55,158.30 L227.52,157.80 L227.50,157.30 L227.47,156.80 L227.45,156.30 L227.43,155.80 L227.41,155.30 L227.39,154.80 L227.37,154.30 L227.36,153.80 L227.34,153.30 L227.33,152.80 L227.31,152.30 L227.30,151.80 L227.29,151.30 L227.27,150.80 L227.26,150.30 L227.25,149.80 L227.24,149.30 L227.22,148.80 L227.21,148.30 L227.20,147.80 L227.18,147.30 L227.17,146.80 L227.15,146.30 L227.13,145.80 L227.11,145.30 L227.09,144.80 L227.07,144.30 L227.04,143.80 L227.01,143.30 L226.98,142.80 L226.95,142.30 L226.92,141.80 L226.88,141.30 L226.85,140.80 L226.81,140.30 L226.77,139.80 L226.74,139.30 L226.71,138.80 L226.67,138.30 L226.64,137.80 L226.62,137.30 L226.59,136.80 L226.56,136.30 L226.53,135.80 L226.51,135.30 L226.48,134.80 L226.45,134.30 L226.42,133.80 L226.40,133.30 L226.37,132.80 L226.35,132.30 L226.33,131.80 L226.32,131.30 L226.31,130.80 L226.30,130.30 L226.30,129.80 L226.30,129.30 L226.30,128.80 L226.30,128.30 L226.30,127.80 L226.30,127.30 L226.30,126.80 L226.30,126.30 L226.30,125.80 L226.30,125.30 L226.30,124.80 L226.30,124.30 L226.30,123.80 L226.30,123.30 L226.31,122.80 L226.38,122.30 L226.52,121.80 L226.70,121.30 L226.90,120.80 L227.10,120.30 Z"/><path d="M285.50,123.70 L285.76,124.20 L286.02,124.70 L286.29,125.20 L286.56,125.70 L286.84,126.20 L287.13,126.70 L287.42,127.20 L287.73,127.70 L288.06,128.20 L288.40,128.70 L288.73,129.20 L289.06,129.70 L289.37,130.20 L289.65,130.70 L289.90,131.20 L290.15,131.70 L290.41,132.20 L290.67,132.70 L290.92,133.20 L291.16,133.70 L291.37,134.20 L291.54,134.70 L291.68,135.20 L291.77,135.70 L291.80,136.20 L291.77,136.70 L291.69,137.20 L291.57,137.70 L291.42,138.20 L291.25,138.70 L291.07,139.20 L290.90,139.70 L290.74,140.20 L290.56,140.70 L290.36,141.20 L290.15,141.70 L289.93,142.20 L289.71,142.70 L289.49,143.20 L289.28,143.70 L289.08,144.20 L288.90,144.70 L288.74,145.20 L288.58,145.70 L288.42,146.20 L288.26,146.70 L288.12,147.20 L287.97,147.70 L287.84,148.20 L287.73,148.70 L287.62,149.20 L287.54,149.70 L287.48,150.20 L287.42,150.70 L287.38,151.20 L287.34,151.70 L287.30,152.20 L287.27,152.70 L287.23,153.20 L287.20,153.70 L287.16,154.20 L287.13,154.70 L287.08,155.20 L287.04,155.70 L286.99,156.20 L286.94,156.70 L286.90,157.20 L286.85,157.70 L286.79,158.20 L286.74,158.70 L286.69,159.20 L286.63,159.70 L286.58,160.20 L286.51,160.70 L286.44,161.20 L286.37,161.70 L286.29,162.20 L286.21,162.70 L286.13,163.20 L286.06,163.70 L285.99,164.20 L285.92,164.70 L285.87,165.20 L285.82,165.70 L285.79,166.20 L285.75,166.70 L285.72,167.20 L285.69,167.70 L285.66,168.20 L285.63,168.70 L285.60,169.20 L285.58,169.70 L285.56,170.20 L285.54,170.70 L285.52,171.20 L285.51,171.70 L285.50,172.20 L285.50,172.70 L285.50,172.80 L283.10,172.80 L283.10,172.70 L283.10,172.20 L283.09,171.70 L283.08,171.20 L283.06,170.70 L283.04,170.20 L283.02,169.70 L283.00,169.20 L282.97,168.70 L282.94,168.20 L282.91,167.70 L282.88,167.20 L282.85,166.70 L282.81,166.20 L282.78,165.70 L282.73,165.20 L282.68,164.70 L282.61,164.20 L282.54,163.70 L282.47,163.20 L282.39,162.70 L282.31,162.20 L282.23,161.70 L282.16,161.20 L282.09,160.70 L282.02,160.20 L281.97,159.70 L281.91,159.20 L281.86,158.70 L281.81,158.20 L281.75,157.70 L281.70,157.20 L281.66,156.70 L281.61,156.20 L281.56,155.70 L281.52,155.20 L281.47,154.70 L281.44,154.20 L281.40,153.70 L281.37,153.20 L281.33,152.70 L281.30,152.20 L281.26,151.70 L281.22,151.20 L281.18,150.70 L281.12,150.20 L281.06,149.70 L280.98,149.20 L280.87,148.70 L280.76,148.20 L280.63,147.70 L280.48,147.20 L280.34,146.70 L280.18,146.20 L280.02,145.70 L279.86,145.20 L279.70,144.70 L279.52,144.20 L279.32,143.70 L279.11,143.20 L278.89,142.70 L278.67,142.20 L278.45,141.70 L278.24,141.20 L278.04,140.70 L277.86,140.20 L277.70,139.70 L277.53,139.20 L277.35,138.70 L277.18,138.20 L277.03,137.70 L276.91,137.20 L276.83,136.70 L276.80,136.20 L276.83,135.70 L276.92,135.20 L277.06,134.70 L277.23,134.20 L277.44,133.70 L277.68,133.20 L277.93,132.70 L278.19,132.20 L278.45,131.70 L278.70,131.20 L278.95,130.70 L279.23,130.20 L279.54,129.70 L279.87,129.20 L280.20,128.70 L280.54,128.20 L280.87,127.70 L281.18,127.20 L281.47,126.70 L281.76,126.20 L282.04,125.70 L282.31,125.20 L282.58,124.70 L282.84,124.20 L283.10,123.70 Z"/></g>
<path d="M66.10,146.23 L67.93,146.62 L69.77,147.02 L71.60,147.43 L73.43,147.84 L75.27,148.26 L77.10,148.69 L78.94,149.11 L80.77,149.54 L82.60,149.96 L84.44,150.38 L86.27,150.80 L88.10,151.21 L89.94,151.61 L91.77,152.00 L93.60,152.37 L95.44,152.74 L97.27,153.09 L99.11,153.42 L100.94,153.73 L102.77,154.03 L104.61,154.30 L106.44,154.54 L108.27,154.76 L110.11,154.96 L111.94,155.12 L113.77,155.26 L115.61,155.36 L117.44,155.42 L119.27,155.46 L121.11,155.45 L122.94,155.40 L124.78,155.32 L126.61,155.21 L128.44,155.06 L130.28,154.89 L132.11,154.69 L133.94,154.46 L135.78,154.22 L137.61,153.95 L139.44,153.67 L141.28,153.38 L143.11,153.08 L144.95,152.77 L146.78,152.46 L148.61,152.14 L150.45,151.83 L152.28,151.51 L154.11,151.20 L155.95,150.91 L157.78,150.61 L159.61,150.33 L161.45,150.06 L163.28,149.80 L165.12,149.54 L166.95,149.30 L168.78,149.06 L170.62,148.83 L172.45,148.61 L174.28,148.40 L176.12,148.19 L177.95,148.00 L179.78,147.81 L181.62,147.63 L183.45,147.45 L185.28,147.28 L187.12,147.12 L188.95,146.97 L190.79,146.82 L192.62,146.67 L194.45,146.54 L196.29,146.41 L198.12,146.29 L199.95,146.17 L201.79,146.06 L203.62,145.95 L205.45,145.85 L207.29,145.75 L209.12,145.66 L210.96,145.57 L212.79,145.49 L214.62,145.41 L216.46,145.34 L218.29,145.27 L220.12,145.21 L221.96,145.14 L223.79,145.09 L225.62,145.03 L227.46,144.98 L229.29,144.93 L231.13,144.89 L232.96,144.85 L234.79,144.81 L236.63,144.77 L238.46,144.74 L240.29,144.71 L242.13,144.68 L243.96,144.65 L245.79,144.63 L247.63,144.60 L249.46,144.58 L251.29,144.56 L253.13,144.54 L254.96,144.52 L256.80,144.50 L258.63,144.48 L260.46,144.47 L262.30,144.45 L264.13,144.43 L265.96,144.42 L267.80,144.40 L269.63,144.39 L271.46,144.37 L273.30,144.35 L275.13,144.33 L276.97,144.31 L278.80,144.29 L280.63,144.27 L282.47,144.25 L284.30,144.22" fill="none" stroke="#de4760" stroke-width="1.3"/>
<g fill="#d81f3f"><circle cx="66.30" cy="140.70" r="1.2"/><circle cx="66.30" cy="146.60" r="1.2"/><circle cx="65.05" cy="149.60" r="1.2"/><circle cx="67.55" cy="149.60" r="1.2"/></g><g fill="#d81f3f"><circle cx="120.90" cy="122.90" r="1.2"/><circle cx="120.90" cy="125.80" r="1.2"/><circle cx="120.90" cy="146.00" r="1.2"/><circle cx="119.65" cy="162.50" r="1.2"/><circle cx="122.15" cy="162.50" r="1.2"/><circle cx="120.90" cy="166.20" r="1.2"/><circle cx="120.90" cy="169.80" r="1.2"/><circle cx="120.90" cy="188.00" r="1.2"/></g><g fill="#d81f3f"><circle cx="175.30" cy="120.30" r="1.2"/><circle cx="175.30" cy="123.50" r="1.2"/><circle cx="174.05" cy="126.30" r="1.2"/><circle cx="176.55" cy="126.30" r="1.2"/><circle cx="175.30" cy="135.40" r="1.2"/><circle cx="172.80" cy="138.10" r="1.2"/><circle cx="175.30" cy="138.10" r="1.2"/><circle cx="177.80" cy="138.10" r="1.2"/><circle cx="175.30" cy="147.70" r="1.2"/><circle cx="174.05" cy="149.50" r="1.2"/><circle cx="176.55" cy="149.50" r="1.2"/><circle cx="175.30" cy="152.20" r="1.2"/><circle cx="175.30" cy="156.00" r="1.2"/><circle cx="172.80" cy="159.00" r="1.2"/><circle cx="175.30" cy="159.00" r="1.2"/><circle cx="177.80" cy="159.00" r="1.2"/><circle cx="175.30" cy="161.80" r="1.2"/><circle cx="175.30" cy="164.60" r="1.2"/><circle cx="175.30" cy="188.20" r="1.2"/></g><g fill="#d81f3f"><circle cx="229.60" cy="121.10" r="1.2"/><circle cx="227.10" cy="123.40" r="1.2"/><circle cx="229.60" cy="123.40" r="1.2"/><circle cx="232.10" cy="123.40" r="1.2"/><circle cx="229.60" cy="126.40" r="1.2"/><circle cx="229.60" cy="134.50" r="1.2"/><circle cx="228.35" cy="137.00" r="1.2"/><circle cx="230.85" cy="137.00" r="1.2"/><circle cx="229.60" cy="143.10" r="1.2"/><circle cx="229.60" cy="150.30" r="1.2"/><circle cx="229.60" cy="152.70" r="1.2"/><circle cx="229.60" cy="155.30" r="1.2"/><circle cx="229.60" cy="158.00" r="1.2"/><circle cx="229.60" cy="162.10" r="1.2"/><circle cx="229.60" cy="166.20" r="1.2"/><circle cx="229.60" cy="171.30" r="1.2"/><circle cx="229.60" cy="189.20" r="1.2"/></g><g fill="#d81f3f"><circle cx="284.30" cy="125.40" r="1.2"/><circle cx="283.05" cy="133.60" r="1.2"/><circle cx="285.55" cy="133.60" r="1.2"/><circle cx="278.05" cy="136.70" r="1.2"/><circle cx="280.55" cy="136.70" r="1.2"/><circle cx="283.05" cy="136.70" r="1.2"/><circle cx="285.55" cy="136.70" r="1.2"/><circle cx="288.05" cy="136.70" r="1.2"/><circle cx="290.55" cy="136.70" r="1.2"/><circle cx="284.30" cy="140.10" r="1.2"/><circle cx="284.30" cy="143.80" r="1.2"/><circle cx="284.30" cy="148.10" r="1.2"/><circle cx="284.30" cy="151.00" r="1.2"/><circle cx="283.05" cy="157.10" r="1.2"/><circle cx="285.55" cy="157.10" r="1.2"/><circle cx="284.30" cy="161.70" r="1.2"/><circle cx="284.30" cy="171.40" r="1.2"/></g>
<g fill="#cfe9d2"><path d="M76.10,237.20 L76.12,237.70 L76.14,238.20 L76.16,238.70 L76.19,239.20 L76.22,239.70 L76.25,240.20 L76.28,240.70 L76.31,241.20 L76.35,241.70 L76.38,242.20 L76.42,242.70 L76.46,243.20 L76.51,243.70 L76.57,244.20 L76.65,244.70 L76.75,245.20 L76.95,245.70 L77.24,246.20 L77.59,246.70 L77.95,247.20 L78.39,247.70 L78.91,248.20 L79.46,248.70 L80.01,249.20 L80.60,249.70 L81.23,250.20 L81.84,250.70 L82.43,251.20 L82.98,251.70 L83.53,252.20 L84.06,252.70 L84.61,253.20 L85.18,253.70 L85.76,254.20 L86.30,254.70 L86.78,255.20 L87.22,255.70 L87.62,256.20 L88.00,256.70 L88.37,257.20 L88.75,257.70 L89.10,258.20 L89.43,258.70 L89.71,259.20 L90.00,259.70 L90.23,260.20 L90.30,260.70 L90.26,261.20 L90.17,261.70 L90.01,262.20 L89.53,262.70 L89.30,262.90 L43.30,262.90 L43.07,262.70 L42.59,262.20 L42.43,261.70 L42.34,261.20 L42.30,260.70 L42.37,260.20 L42.60,259.70 L42.89,259.20 L43.17,258.70 L43.50,258.20 L43.85,257.70 L44.23,257.20 L44.60,256.70 L44.98,256.20 L45.38,255.70 L45.82,255.20 L46.30,254.70 L46.84,254.20 L47.42,253.70 L47.99,253.20 L48.54,252.70 L49.07,252.20 L49.62,251.70 L50.17,251.20 L50.76,250.70 L51.37,250.20 L52.00,249.70 L52.59,249.20 L53.14,248.70 L53.69,248.20 L54.21,247.70 L54.65,247.20 L55.01,246.70 L55.36,246.20 L55.65,245.70 L55.85,245.20 L55.95,244.70 L56.03,244.20 L56.09,243.70 L56.14,243.20 L56.18,242.70 L56.22,242.20 L56.25,241.70 L56.29,241.20 L56.32,240.70 L56.35,240.20 L56.38,239.70 L56.41,239.20 L56.44,238.70 L56.46,238.20 L56.48,237.70 L56.50,237.20 Z"/><path d="M124.00,208.30 L124.06,208.80 L124.13,209.30 L124.19,209.80 L124.26,210.30 L124.33,210.80 L124.40,211.30 L124.47,211.80 L124.54,212.30 L124.62,212.80 L124.69,213.30 L124.77,213.80 L124.85,214.30 L124.94,214.80 L125.03,215.30 L125.12,215.80 L125.22,216.30 L125.33,216.80 L125.44,217.30 L125.56,217.80 L125.69,218.30 L125.81,218.80 L125.93,219.30 L126.05,219.80 L126.17,220.30 L126.29,220.80 L126.40,221.30 L126.52,221.80 L126.63,222.30 L126.75,222.80 L126.87,223.30 L126.99,223.80 L127.11,224.30 L127.24,224.80 L127.37,225.30 L127.51,225.80 L127.66,226.30 L127.81,226.80 L127.97,227.30 L128.12,227.80 L128.28,228.30 L128.44,228.80 L128.59,229.30 L128.74,229.80 L128.89,230.30 L129.03,230.80 L129.18,231.30 L129.33,231.80 L129.47,232.30 L129.61,232.80 L129.75,233.30 L129.87,233.80 L129.99,234.30 L130.09,234.80 L130.19,235.30 L130.27,235.80 L130.35,236.30 L130.43,236.80 L130.51,237.30 L130.58,237.80 L130.64,238.30 L130.69,238.80 L130.74,239.30 L130.79,239.80 L130.82,240.30 L130.85,240.80 L130.89,241.30 L130.92,241.80 L130.95,242.30 L130.98,242.80 L131.00,243.30 L131.03,243.80 L131.05,244.30 L131.07,244.80 L131.08,245.30 L131.09,245.80 L131.10,246.30 L131.10,246.80 L131.10,247.30 L131.09,247.80 L131.09,248.30 L131.07,248.80 L131.06,249.30 L131.04,249.80 L131.03,250.30 L131.01,250.80 L130.98,251.30 L130.96,251.80 L130.94,252.30 L130.91,252.80 L130.88,253.30 L130.84,253.80 L130.80,254.30 L130.74,254.80 L130.68,255.30 L130.61,255.80 L130.53,256.30 L130.45,256.80 L130.37,257.30 L130.28,257.80 L130.19,258.30 L130.09,258.80 L129.98,259.30 L129.85,259.80 L129.72,260.30 L129.57,260.80 L129.42,261.30 L129.26,261.80 L129.10,262.30 L128.93,262.80 L128.75,263.30 L128.56,263.80 L128.36,264.30 L128.20,264.70 L113.60,264.70 L113.44,264.30 L113.24,263.80 L113.05,263.30 L112.87,262.80 L112.70,262.30 L112.54,261.80 L112.38,261.30 L112.23,260.80 L112.08,260.30 L111.95,259.80 L111.82,259.30 L111.71,258.80 L111.61,258.30 L111.52,257.80 L111.43,257.30 L111.35,256.80 L111.27,256.30 L111.19,255.80 L111.12,255.30 L111.06,254.80 L111.00,254.30 L110.96,253.80 L110.92,253.30 L110.89,252.80 L110.86,252.30 L110.84,251.80 L110.82,251.30 L110.79,250.80 L110.77,250.30 L110.76,249.80 L110.74,249.30 L110.73,248.80 L110.71,248.30 L110.71,247.80 L110.70,247.30 L110.70,246.80 L110.70,246.30 L110.71,245.80 L110.72,245.30 L110.73,244.80 L110.75,244.30 L110.77,243.80 L110.80,243.30 L110.82,242.80 L110.85,242.30 L110.88,241.80 L110.91,241.30 L110.95,240.80 L110.98,240.30 L111.01,239.80 L111.06,239.30 L111.11,238.80 L111.16,238.30 L111.22,237.80 L111.29,237.30 L111.37,236.80 L111.45,236.30 L111.53,235.80 L111.61,235.30 L111.71,234.80 L111.81,234.30 L111.93,233.80 L112.05,233.30 L112.19,232.80 L112.33,232.30 L112.47,231.80 L112.62,231.30 L112.77,230.80 L112.91,230.30 L113.06,229.80 L113.21,229.30 L113.36,228.80 L113.52,228.30 L113.68,227.80 L113.83,227.30 L113.99,226.80 L114.14,226.30 L114.29,225.80 L114.43,225.30 L114.56,224.80 L114.69,224.30 L114.81,223.80 L114.93,223.30 L115.05,222.80 L115.17,222.30 L115.28,221.80 L115.40,221.30 L115.51,220.80 L115.63,220.30 L115.75,219.80 L115.87,219.30 L115.99,218.80 L116.11,218.30 L116.24,217.80 L116.36,217.30 L116.47,216.80 L116.58,216.30 L116.68,215.80 L116.77,215.30 L116.86,214.80 L116.95,214.30 L117.03,213.80 L117.11,213.30 L117.18,212.80 L117.26,212.30 L117.33,211.80 L117.40,211.30 L117.47,210.80 L117.54,210.30 L117.61,209.80 L117.67,209.30 L117.74,208.80 L117.80,208.30 Z"/><path d="M177.80,223.50 L177.92,224.00 L178.03,224.50 L178.15,225.00 L178.27,225.50 L178.38,226.00 L178.50,226.50 L178.61,227.00 L178.72,227.50 L178.82,228.00 L178.93,228.50 L179.04,229.00 L179.16,229.50 L179.30,230.00 L179.45,230.50 L179.63,231.00 L179.81,231.50 L180.01,232.00 L180.22,232.50 L180.44,233.00 L180.67,233.50 L180.90,234.00 L181.14,234.50 L181.41,235.00 L181.69,235.50 L181.97,236.00 L182.27,236.50 L182.56,237.00 L182.84,237.50 L183.12,238.00 L183.40,238.50 L183.69,239.00 L183.98,239.50 L184.26,240.00 L184.53,240.50 L184.78,241.00 L185.00,241.50 L185.22,242.00 L185.44,242.50 L185.66,243.00 L185.87,243.50 L186.05,244.00 L186.19,244.50 L186.28,245.00 L186.30,245.50 L186.29,246.00 L186.28,246.50 L186.25,247.00 L186.22,247.50 L186.18,248.00 L186.14,248.50 L186.10,249.00 L186.04,249.50 L185.96,250.00 L185.85,250.50 L185.72,251.00 L185.59,251.50 L185.44,252.00 L185.30,252.50 L185.15,253.00 L185.00,253.50 L184.83,254.00 L184.66,254.50 L184.47,255.00 L184.28,255.50 L184.08,256.00 L183.89,256.50 L183.69,257.00 L183.50,257.50 L183.31,258.00 L183.11,258.50 L182.90,259.00 L182.70,259.50 L182.50,260.00 L182.30,260.50 L182.11,261.00 L181.94,261.50 L181.79,262.00 L181.64,262.50 L181.50,263.00 L181.37,263.50 L181.24,264.00 L181.12,264.50 L181.01,265.00 L180.90,265.50 L180.80,266.00 L180.70,266.50 L180.61,267.00 L180.51,267.50 L180.42,268.00 L180.34,268.50 L180.26,269.00 L180.20,269.50 L180.14,270.00 L180.10,270.50 L180.07,271.00 L180.03,271.50 L180.00,272.00 L179.97,272.50 L179.95,273.00 L179.93,273.50 L179.91,274.00 L179.90,274.50 L179.90,275.00 L179.90,275.50 L179.90,276.00 L179.90,276.50 L179.90,277.00 L179.90,277.50 L179.90,278.00 L179.90,278.50 L179.90,279.00 L179.90,279.50 L179.89,280.00 L179.89,280.50 L179.87,281.00 L179.86,281.50 L179.84,282.00 L179.82,282.50 L179.80,283.00 L179.78,283.50 L179.75,284.00 L179.71,284.50 L179.67,285.00 L179.63,285.50 L179.60,285.80 L171.00,285.80 L170.97,285.50 L170.93,285.00 L170.89,284.50 L170.85,284.00 L170.82,283.50 L170.80,283.00 L170.78,282.50 L170.76,282.00 L170.74,281.50 L170.73,281.00 L170.71,280.50 L170.71,280.00 L170.70,279.50 L170.70,279.00 L170.70,278.50 L170.70,278.00 L170.70,277.50 L170.70,277.00 L170.70,276.50 L170.70,276.00 L170.70,275.50 L170.70,275.00 L170.70,274.50 L170.69,274.00 L170.67,273.50 L170.65,273.00 L170.63,272.50 L170.60,272.00 L170.57,271.50 L170.53,271.00 L170.50,270.50 L170.46,270.00 L170.40,269.50 L170.34,269.00 L170.26,268.50 L170.18,268.00 L170.09,267.50 L169.99,267.00 L169.90,266.50 L169.80,266.00 L169.70,265.50 L169.59,265.00 L169.48,264.50 L169.36,264.00 L169.23,263.50 L169.10,263.00 L168.96,262.50 L168.81,262.00 L168.66,261.50 L168.49,261.00 L168.30,260.50 L168.10,260.00 L167.90,259.50 L167.70,259.00 L167.49,258.50 L167.29,258.00 L167.10,257.50 L166.91,257.00 L166.71,256.50 L166.52,256.00 L166.32,255.50 L166.13,255.00 L165.94,254.50 L165.77,254.00 L165.60,253.50 L165.45,253.00 L165.30,252.50 L165.16,252.00 L165.01,251.50 L164.88,251.00 L164.75,250.50 L164.64,250.00 L164.56,249.50 L164.50,249.00 L164.46,248.50 L164.42,248.00 L164.38,247.50 L164.35,247.00 L164.32,246.50 L164.31,246.00 L164.30,245.50 L164.32,245.00 L164.41,244.50 L164.55,244.00 L164.73,243.50 L164.94,243.00 L165.16,242.50 L165.38,242.00 L165.60,241.50 L165.82,241.00 L166.07,240.50 L166.34,240.00 L166.62,239.50 L166.91,239.00 L167.20,238.50 L167.48,238.00 L167.76,237.50 L168.04,237.00 L168.33,236.50 L168.63,236.00 L168.91,235.50 L169.19,235.00 L169.46,234.50 L169.70,234.00 L169.93,233.50 L170.16,233.00 L170.38,232.50 L170.59,232.00 L170.79,231.50 L170.97,231.00 L171.15,230.50 L171.30,230.00 L171.44,229.50 L171.56,229.00 L171.67,228.50 L171.78,228.00 L171.88,227.50 L171.99,227.00 L172.10,226.50 L172.22,226.00 L172.33,225.50 L172.45,225.00 L172.57,224.50 L172.68,224.00 L172.80,223.50 Z"/><path d="M230.40,206.10 L230.48,206.60 L230.56,207.10 L230.64,207.60 L230.72,208.10 L230.80,208.60 L230.87,209.10 L230.94,209.60 L231.01,210.10 L231.08,210.60 L231.15,211.10 L231.21,211.60 L231.28,212.10 L231.34,212.60 L231.40,213.10 L231.46,213.60 L231.52,214.10 L231.57,214.60 L231.63,215.10 L231.69,215.60 L231.75,216.10 L231.81,216.60 L231.87,217.10 L231.93,217.60 L231.99,218.10 L232.05,218.60 L232.12,219.10 L232.19,219.60 L232.26,220.10 L232.33,220.60 L232.40,221.10 L232.48,221.60 L232.56,222.10 L232.63,222.60 L232.71,223.10 L232.79,223.60 L232.87,224.10 L232.95,224.60 L233.03,225.10 L233.10,225.60 L233.17,226.10 L233.25,226.60 L233.31,227.10 L233.38,227.60 L233.44,228.10 L233.50,228.60 L233.56,229.10 L233.62,229.60 L233.68,230.10 L233.74,230.60 L233.80,231.10 L233.85,231.60 L233.91,232.10 L233.97,232.60 L234.03,233.10 L234.08,233.60 L234.14,234.10 L234.20,234.60 L234.26,235.10 L234.33,235.60 L234.39,236.10 L234.46,236.60 L234.52,237.10 L234.59,237.60 L234.66,238.10 L234.73,238.60 L234.80,239.10 L234.87,239.60 L234.94,240.10 L235.01,240.60 L235.08,241.10 L235.14,241.60 L235.20,242.10 L235.26,242.60 L235.31,243.10 L235.36,243.60 L235.42,244.10 L235.47,244.60 L235.52,245.10 L235.58,245.60 L235.63,246.10 L235.68,246.60 L235.73,247.10 L235.77,247.60 L235.82,248.10 L235.86,248.60 L235.89,249.10 L235.93,249.60 L235.96,250.10 L235.98,250.60 L236.00,251.10 L236.02,251.60 L236.04,252.10 L236.06,252.60 L236.08,253.10 L236.10,253.60 L236.11,254.10 L236.13,254.60 L236.14,255.10 L236.15,255.60 L236.17,256.10 L236.18,256.60 L236.18,257.10 L236.19,257.60 L236.20,258.10 L236.20,258.60 L236.20,259.10 L236.20,259.60 L236.20,260.10 L236.19,260.60 L236.19,261.10 L236.19,261.60 L236.18,262.10 L236.17,262.60 L236.17,263.10 L236.16,263.60 L236.15,264.10 L236.14,264.60 L236.13,265.10 L236.12,265.60 L236.11,266.10 L236.10,266.60 L236.09,267.10 L236.07,267.60 L236.05,268.10 L236.02,268.60 L235.99,269.10 L235.96,269.60 L235.92,270.10 L235.89,270.60 L235.85,271.10 L235.81,271.60 L235.77,272.10 L235.73,272.60 L235.69,273.10 L235.66,273.60 L235.62,274.10 L235.58,274.60 L235.54,275.10 L235.50,275.60 L235.46,276.10 L235.42,276.60 L235.38,277.10 L235.33,277.60 L235.28,278.10 L235.23,278.60 L235.18,279.10 L235.12,279.60 L235.06,280.10 L235.00,280.60 L234.93,281.10 L234.85,281.60 L234.77,282.10 L234.68,282.60 L234.58,283.10 L234.46,283.60 L234.33,284.10 L234.19,284.60 L234.03,285.10 L234.00,285.20 L225.20,285.20 L225.17,285.10 L225.01,284.60 L224.87,284.10 L224.74,283.60 L224.62,283.10 L224.52,282.60 L224.43,282.10 L224.35,281.60 L224.27,281.10 L224.20,280.60 L224.14,280.10 L224.08,279.60 L224.02,279.10 L223.97,278.60 L223.92,278.10 L223.87,277.60 L223.82,277.10 L223.78,276.60 L223.74,276.10 L223.70,275.60 L223.66,275.10 L223.62,274.60 L223.58,274.10 L223.54,273.60 L223.51,273.10 L223.47,272.60 L223.43,272.10 L223.39,271.60 L223.35,271.10 L223.31,270.60 L223.28,270.10 L223.24,269.60 L223.21,269.10 L223.18,268.60 L223.15,268.10 L223.13,267.60 L223.11,267.10 L223.10,266.60 L223.09,266.10 L223.08,265.60 L223.07,265.10 L223.06,264.60 L223.05,264.10 L223.04,263.60 L223.03,263.10 L223.03,262.60 L223.02,262.10 L223.01,261.60 L223.01,261.10 L223.01,260.60 L223.00,260.10 L223.00,259.60 L223.00,259.10 L223.00,258.60 L223.00,258.10 L223.01,257.60 L223.02,257.10 L223.02,256.60 L223.03,256.10 L223.05,255.60 L223.06,255.10 L223.07,254.60 L223.09,254.10 L223.10,253.60 L223.12,253.10 L223.14,252.60 L223.16,252.10 L223.18,251.60 L223.20,251.10 L223.22,250.60 L223.24,250.10 L223.27,249.60 L223.31,249.10 L223.34,248.60 L223.38,248.10 L223.43,247.60 L223.47,247.10 L223.52,246.60 L223.57,246.10 L223.62,245.60 L223.68,245.10 L223.73,244.60 L223.78,244.10 L223.84,243.60 L223.89,243.10 L223.94,242.60 L224.00,242.10 L224.06,241.60 L224.12,241.10 L224.19,240.60 L224.26,240.10 L224.33,239.60 L224.40,239.10 L224.47,238.60 L224.54,238.10 L224.61,237.60 L224.68,237.10 L224.74,236.60 L224.81,236.10 L224.87,235.60 L224.94,235.10 L225.00,234.60 L225.06,234.10 L225.12,233.60 L225.17,233.10 L225.23,232.60 L225.29,232.10 L225.35,231.60 L225.40,231.10 L225.46,230.60 L225.52,230.10 L225.58,229.60 L225.64,229.10 L225.70,228.60 L225.76,228.10 L225.82,227.60 L225.89,227.10 L225.95,226.60 L226.03,226.10 L226.10,225.60 L226.17,225.10 L226.25,224.60 L226.33,224.10 L226.41,223.60 L226.49,223.10 L226.57,222.60 L226.64,222.10 L226.72,221.60 L226.80,221.10 L226.87,220.60 L226.94,220.10 L227.01,219.60 L227.08,219.10 L227.15,218.60 L227.21,218.10 L227.27,217.60 L227.33,217.10 L227.39,216.60 L227.45,216.10 L227.51,215.60 L227.57,215.10 L227.63,214.60 L227.68,214.10 L227.74,213.60 L227.80,213.10 L227.86,212.60 L227.92,212.10 L227.99,211.60 L228.05,211.10 L228.12,210.60 L228.19,210.10 L228.26,209.60 L228.33,209.10 L228.40,208.60 L228.48,208.10 L228.56,207.60 L228.64,207.10 L228.72,206.60 L228.80,206.10 Z"/><path d="M287.60,237.60 L287.72,238.10 L287.84,238.60 L287.96,239.10 L288.09,239.60 L288.22,240.10 L288.35,240.60 L288.49,241.10 L288.63,241.60 L288.77,242.10 L288.91,242.60 L289.06,243.10 L289.20,243.60 L289.35,244.10 L289.51,244.60 L289.67,245.10 L289.83,245.60 L290.00,246.10 L290.18,246.60 L290.36,247.10 L290.55,247.60 L290.75,248.10 L290.94,248.60 L291.15,249.10 L291.35,249.60 L291.54,250.10 L291.74,250.60 L291.94,251.10 L292.15,251.60 L292.36,252.10 L292.57,252.60 L292.77,253.10 L292.97,253.60 L293.15,254.10 L293.31,254.60 L293.46,255.10 L293.59,255.60 L293.72,256.10 L293.84,256.60 L293.95,257.10 L294.04,257.60 L294.11,258.10 L294.18,258.60 L294.25,259.10 L294.31,259.60 L294.36,260.10 L294.39,260.60 L294.40,261.10 L294.40,261.60 L294.38,262.10 L294.37,262.60 L294.34,263.10 L294.32,263.60 L294.29,264.10 L294.26,264.60 L294.22,265.10 L294.17,265.60 L294.12,266.10 L294.06,266.60 L294.02,267.10 L293.98,267.60 L293.93,268.10 L293.89,268.60 L293.85,269.10 L293.82,269.60 L293.78,270.10 L293.75,270.60 L293.72,271.10 L293.70,271.60 L293.68,272.10 L293.66,272.60 L293.64,273.10 L293.63,273.60 L293.62,274.10 L293.60,274.60 L293.59,275.10 L293.57,275.60 L293.55,276.10 L293.53,276.60 L293.50,277.10 L293.48,277.60 L293.45,278.10 L293.42,278.60 L293.38,279.10 L293.34,279.60 L293.29,280.10 L293.23,280.60 L293.15,281.10 L293.06,281.60 L292.95,282.10 L292.82,282.60 L292.64,283.10 L292.42,283.60 L292.16,284.10 L291.80,284.60 L291.32,285.10 L291.10,285.30 L277.50,285.30 L277.28,285.10 L276.80,284.60 L276.44,284.10 L276.18,283.60 L275.96,283.10 L275.78,282.60 L275.65,282.10 L275.54,281.60 L275.45,281.10 L275.37,280.60 L275.31,280.10 L275.26,279.60 L275.22,279.10 L275.18,278.60 L275.15,278.10 L275.12,277.60 L275.10,277.10 L275.07,276.60 L275.05,276.10 L275.03,275.60 L275.01,275.10 L275.00,274.60 L274.98,274.10 L274.97,273.60 L274.96,273.10 L274.94,272.60 L274.92,272.10 L274.90,271.60 L274.88,271.10 L274.85,270.60 L274.82,270.10 L274.78,269.60 L274.75,269.10 L274.71,268.60 L274.67,268.10 L274.62,267.60 L274.58,267.10 L274.54,266.60 L274.48,266.10 L274.43,265.60 L274.38,265.10 L274.34,264.60 L274.31,264.10 L274.28,263.60 L274.26,263.10 L274.23,262.60 L274.22,262.10 L274.20,261.60 L274.20,261.10 L274.21,260.60 L274.24,260.10 L274.29,259.60 L274.35,259.10 L274.42,258.60 L274.49,258.10 L274.56,257.60 L274.65,257.10 L274.76,256.60 L274.88,256.10 L275.01,255.60 L275.14,255.10 L275.29,254.60 L275.45,254.10 L275.63,253.60 L275.83,253.10 L276.03,252.60 L276.24,252.10 L276.45,251.60 L276.66,251.10 L276.86,250.60 L277.06,250.10 L277.25,249.60 L277.45,249.10 L277.66,248.60 L277.85,248.10 L278.05,247.60 L278.24,247.10 L278.42,246.60 L278.60,246.10 L278.77,245.60 L278.93,245.10 L279.09,244.60 L279.25,244.10 L279.40,243.60 L279.54,243.10 L279.69,242.60 L279.83,242.10 L279.97,241.60 L280.11,241.10 L280.25,240.60 L280.38,240.10 L280.51,239.60 L280.64,239.10 L280.76,238.60 L280.88,238.10 L281.00,237.60 Z"/></g>
<path d="M65.90,253.78 L67.74,253.00 L69.57,252.25 L71.41,251.53 L73.24,250.84 L75.08,250.18 L76.91,249.54 L78.75,248.93 L80.58,248.35 L82.42,247.81 L84.25,247.29 L86.09,246.80 L87.92,246.34 L89.76,245.91 L91.59,245.51 L93.43,245.14 L95.26,244.80 L97.10,244.49 L98.94,244.22 L100.77,243.97 L102.61,243.76 L104.44,243.58 L106.28,243.43 L108.11,243.32 L109.95,243.24 L111.78,243.19 L113.62,243.17 L115.45,243.19 L117.29,243.24 L119.12,243.32 L120.96,243.44 L122.79,243.60 L124.63,243.78 L126.46,244.01 L128.30,244.26 L130.14,244.56 L131.97,244.89 L133.81,245.25 L135.64,245.64 L137.48,246.05 L139.31,246.49 L141.15,246.95 L142.98,247.43 L144.82,247.92 L146.65,248.43 L148.49,248.94 L150.32,249.46 L152.16,249.98 L153.99,250.51 L155.83,251.03 L157.66,251.54 L159.50,252.04 L161.34,252.54 L163.17,253.01 L165.01,253.47 L166.84,253.91 L168.68,254.33 L170.51,254.72 L172.35,255.08 L174.18,255.40 L176.02,255.69 L177.85,255.95 L179.69,256.17 L181.52,256.36 L183.36,256.52 L185.19,256.65 L187.03,256.75 L188.86,256.82 L190.70,256.87 L192.54,256.90 L194.37,256.91 L196.21,256.89 L198.04,256.86 L199.88,256.82 L201.71,256.76 L203.55,256.69 L205.38,256.61 L207.22,256.53 L209.05,256.45 L210.89,256.37 L212.72,256.29 L214.56,256.22 L216.39,256.15 L218.23,256.09 L220.06,256.05 L221.90,256.02 L223.74,256.01 L225.57,256.02 L227.41,256.06 L229.24,256.12 L231.08,256.21 L232.91,256.32 L234.75,256.46 L236.58,256.63 L238.42,256.81 L240.25,257.02 L242.09,257.24 L243.92,257.49 L245.76,257.75 L247.59,258.02 L249.43,258.30 L251.26,258.60 L253.10,258.90 L254.94,259.21 L256.77,259.53 L258.61,259.85 L260.44,260.17 L262.28,260.49 L264.11,260.81 L265.95,261.13 L267.78,261.44 L269.62,261.75 L271.45,262.05 L273.29,262.34 L275.12,262.61 L276.96,262.88 L278.79,263.13 L280.63,263.36 L282.46,263.57 L284.30,263.77" fill="none" stroke="#4db45d" stroke-width="1.3"/>
<g fill="#1f9a35"><circle cx="66.30" cy="237.90" r="1.2"/><circle cx="66.30" cy="256.30" r="1.2"/><circle cx="65.05" cy="262.30" r="1.2"/><circle cx="67.55" cy="262.30" r="1.2"/></g><g fill="#1f9a35"><circle cx="120.90" cy="210.20" r="1.2"/><circle cx="120.90" cy="229.90" r="1.2"/><circle cx="119.65" cy="237.70" r="1.2"/><circle cx="122.15" cy="237.70" r="1.2"/><circle cx="120.90" cy="251.30" r="1.2"/><circle cx="120.90" cy="254.00" r="1.2"/><circle cx="120.90" cy="259.10" r="1.2"/><circle cx="120.90" cy="263.30" r="1.2"/></g><g fill="#1f9a35"><circle cx="175.30" cy="224.60" r="1.2"/><circle cx="175.30" cy="227.20" r="1.2"/><circle cx="171.55" cy="246.10" r="1.2"/><circle cx="174.05" cy="246.10" r="1.2"/><circle cx="176.55" cy="246.10" r="1.2"/><circle cx="179.05" cy="246.10" r="1.2"/><circle cx="175.30" cy="249.20" r="1.2"/><circle cx="174.05" cy="252.30" r="1.2"/><circle cx="176.55" cy="252.30" r="1.2"/><circle cx="174.05" cy="256.30" r="1.2"/><circle cx="176.55" cy="256.30" r="1.2"/><circle cx="175.30" cy="259.30" r="1.2"/><circle cx="175.30" cy="261.90" r="1.2"/><circle cx="175.30" cy="264.80" r="1.2"/><circle cx="175.30" cy="270.90" r="1.2"/><circle cx="175.30" cy="276.80" r="1.2"/><circle cx="174.05" cy="284.40" r="1.2"/><circle cx="176.55" cy="284.40" r="1.2"/></g><g fill="#1f9a35"><circle cx="229.60" cy="207.30" r="1.2"/><circle cx="229.60" cy="227.10" r="1.2"/><circle cx="229.60" cy="229.60" r="1.2"/><circle cx="229.60" cy="232.40" r="1.2"/><circle cx="229.60" cy="248.40" r="1.2"/><circle cx="228.35" cy="250.80" r="1.2"/><circle cx="230.85" cy="250.80" r="1.2"/><circle cx="229.60" cy="253.70" r="1.2"/><circle cx="229.60" cy="259.50" r="1.2"/><circle cx="229.60" cy="263.10" r="1.2"/><circle cx="229.60" cy="267.40" r="1.2"/><circle cx="229.60" cy="270.40" r="1.2"/><circle cx="228.35" cy="277.20" r="1.2"/><circle cx="230.85" cy="277.20" r="1.2"/><circle cx="229.60" cy="280.70" r="1.2"/><circle cx="229.60" cy="284.10" r="1.2"/></g><g fill="#1f9a35"><circle cx="283.05" cy="239.10" r="1.2"/><circle cx="285.55" cy="239.10" r="1.2"/><circle cx="284.30" cy="245.20" r="1.2"/><circle cx="284.30" cy="251.00" r="1.2"/><circle cx="284.30" cy="253.50" r="1.2"/><circle cx="284.30" cy="255.80" r="1.2"/><circle cx="284.30" cy="258.20" r="1.2"/><circle cx="283.05" cy="260.60" r="1.2"/><circle cx="285.55" cy="260.60" r="1.2"/><circle cx="283.05" cy="263.40" r="1.2"/><circle cx="285.55" cy="263.40" r="1.2"/><circle cx="283.05" cy="267.60" r="1.2"/><circle cx="285.55" cy="267.60" r="1.2"/><circle cx="283.05" cy="278.20" r="1.2"/><circle cx="285.55" cy="278.20" r="1.2"/><circle cx="284.30" cy="280.50" r="1.2"/><circle cx="281.80" cy="284.00" r="1.2"/><circle cx="284.30" cy="284.00" r="1.2"/><circle cx="286.80" cy="284.00" r="1.2"/></g>

<g fill="none" stroke="#dedede" stroke-width="1">
<rect x="39.5" y="28.5" width="271.8" height="260.9"/>
<line x1="39.5" y1="115.4" x2="311.3" y2="115.4" stroke="#e6e6e6"/>
<line x1="39.5" y1="202.5" x2="311.3" y2="202.5" stroke="#e6e6e6"/>
</g>
<g font-size="8.6" font-weight="700" fill="#474747" stroke="#474747" stroke-width="0.15"><line x1="36.6" y1="35.80" x2="39.2" y2="35.80" stroke="#c4c4c4" stroke-width="0.8"/><text x="35.3" y="38.90" text-anchor="end">48</text><line x1="36.6" y1="47.86" x2="39.2" y2="47.86" stroke="#c4c4c4" stroke-width="0.8"/><text x="35.3" y="50.96" text-anchor="end">46</text><line x1="36.6" y1="59.92" x2="39.2" y2="59.92" stroke="#c4c4c4" stroke-width="0.8"/><text x="35.3" y="63.02" text-anchor="end">44</text><line x1="36.6" y1="71.98" x2="39.2" y2="71.98" stroke="#c4c4c4" stroke-width="0.8"/><text x="35.3" y="75.08" text-anchor="end">42</text><line x1="36.6" y1="84.04" x2="39.2" y2="84.04" stroke="#c4c4c4" stroke-width="0.8"/><text x="35.3" y="87.14" text-anchor="end">40</text><line x1="36.6" y1="96.10" x2="39.2" y2="96.10" stroke="#c4c4c4" stroke-width="0.8"/><text x="35.3" y="99.20" text-anchor="end">38</text><line x1="36.6" y1="108.16" x2="39.2" y2="108.16" stroke="#c4c4c4" stroke-width="0.8"/><text x="35.3" y="111.26" text-anchor="end">36</text><line x1="36.6" y1="118.40" x2="39.2" y2="118.40" stroke="#c4c4c4" stroke-width="0.8"/><text x="35.3" y="121.50" text-anchor="end">95</text><line x1="36.6" y1="136.50" x2="39.2" y2="136.50" stroke="#c4c4c4" stroke-width="0.8"/><text x="35.3" y="139.60" text-anchor="end">90</text><line x1="36.6" y1="154.50" x2="39.2" y2="154.50" stroke="#c4c4c4" stroke-width="0.8"/><text x="35.3" y="157.60" text-anchor="end">85</text><line x1="36.6" y1="172.30" x2="39.2" y2="172.30" stroke="#c4c4c4" stroke-width="0.8"/><text x="35.3" y="175.40" text-anchor="end">80</text><line x1="36.6" y1="190.10" x2="39.2" y2="190.10" stroke="#c4c4c4" stroke-width="0.8"/><text x="35.3" y="197.60" text-anchor="end">75</text><line x1="36.6" y1="208.30" x2="39.2" y2="208.30" stroke="#c4c4c4" stroke-width="0.8"/><text x="35.3" y="211.40" text-anchor="end">3000</text><line x1="36.6" y1="232.60" x2="39.2" y2="232.60" stroke="#c4c4c4" stroke-width="0.8"/><text x="35.3" y="235.50" text-anchor="end">2000</text><line x1="36.6" y1="258.20" x2="39.2" y2="258.20" stroke="#c4c4c4" stroke-width="0.8"/><text x="35.3" y="261.00" text-anchor="end">1000</text><line x1="36.6" y1="283.00" x2="39.2" y2="283.00" stroke="#c4c4c4" stroke-width="0.8"/><text x="35.3" y="285.90" text-anchor="end">0</text></g>

<g font-size="8.6" font-weight="700" fill="#474747" stroke="#474747" stroke-width="0.15" text-anchor="middle"><text x="64.8" y="299.7">Phase 1</text><text x="120.1" y="299.7">Phase 2</text><text x="174.8" y="299.7">Phase 3</text><text x="229.5" y="299.7">Phase 4</text><text x="284.6" y="299.7">Phase 5</text></g>
<g font-size="8.6" font-weight="700" fill="#2b2b2b" text-anchor="middle">
<text transform="translate(14.1,71.5) rotate(-90)">Latitude</text>
<text transform="translate(14.1,158.4) rotate(-90)">Longitude</text>
<text transform="translate(14.1,245.1) rotate(-90)">Altitude</text>
</g>
<g font-size="9.6" fill="#1a1a1a" stroke-width="0.2">
<rect x="82.8" y="311.2" width="10" height="9.6" fill="#d0dbf6"/><text x="96.5" y="319.1" stroke="#1a1a1a">Latitude</text>
<rect x="144.3" y="311.2" width="10" height="9.6" fill="#f6ced5"/><text x="158.3" y="319.1" stroke="#1a1a1a">Longitude</text>
<rect x="214" y="311.2" width="10" height="9.6" fill="#cfe9d2"/><text x="227.7" y="319.1" stroke="#1a1a1a">Altitude</text>
</g>
<rect x="352.70" y="39.50" width="34.2" height="119.05" fill="#cc9a36"/><rect x="352.70" y="158.55" width="34.2" height="119.05" fill="#009b94"/><rect x="390.80" y="39.50" width="34.2" height="178.58" fill="#cc9a36"/><rect x="390.80" y="218.08" width="34.2" height="59.53" fill="#009b94"/><rect x="428.90" y="39.50" width="34.2" height="119.05" fill="#cc9a36"/><rect x="428.90" y="158.55" width="34.2" height="119.05" fill="#009b94"/><rect x="467.00" y="39.50" width="34.2" height="59.53" fill="#cc9a36"/><rect x="467.00" y="99.03" width="34.2" height="178.58" fill="#009b94"/><rect x="505.10" y="39.50" width="34.2" height="55.95" fill="#cc9a36"/><rect x="505.10" y="95.45" width="34.2" height="182.15" fill="#009b94"/>
<rect x="347.0" y="28.0" width="198.0" height="261.0" fill="none" stroke="#a8a8a8" stroke-width="1"/>
<g font-size="8.7" font-weight="700" fill="#fff" text-anchor="middle"><text x="369.8" y="102.23">50.0%</text><text x="369.8" y="221.28">50.0%</text><text x="407.9" y="131.99">75.0%</text><text x="407.9" y="251.04">25.0%</text><text x="446.0" y="102.23">50.0%</text><text x="446.0" y="221.28">50.0%</text><text x="484.1" y="72.46">25.0%</text><text x="484.1" y="191.51">75.0%</text><text x="522.2" y="70.68">23.5%</text><text x="522.2" y="189.73">76.5%</text></g>
<g font-size="8.6" font-weight="700" fill="#474747" stroke="#474747" stroke-width="0.15"><line x1="344.5" y1="39.50" x2="347.0" y2="39.50" stroke="#555" stroke-width="0.8"/><text x="343" y="42.60" text-anchor="end">100%</text><line x1="344.5" y1="99.03" x2="347.0" y2="99.03" stroke="#555" stroke-width="0.8"/><text x="343" y="102.12" text-anchor="end">75%</text><line x1="344.5" y1="158.55" x2="347.0" y2="158.55" stroke="#555" stroke-width="0.8"/><text x="343" y="161.65" text-anchor="end">50%</text><line x1="344.5" y1="218.08" x2="347.0" y2="218.08" stroke="#555" stroke-width="0.8"/><text x="343" y="221.18" text-anchor="end">25%</text><line x1="344.5" y1="277.60" x2="347.0" y2="277.60" stroke="#555" stroke-width="0.8"/><text x="343" y="280.70" text-anchor="end">0%</text></g>
<line x1="369.8" y1="289.0" x2="369.8" y2="291.4" stroke="#555" stroke-width="0.8"/><line x1="407.9" y1="289.0" x2="407.9" y2="291.4" stroke="#555" stroke-width="0.8"/><line x1="446.0" y1="289.0" x2="446.0" y2="291.4" stroke="#555" stroke-width="0.8"/><line x1="484.1" y1="289.0" x2="484.1" y2="291.4" stroke="#555" stroke-width="0.8"/><line x1="522.2" y1="289.0" x2="522.2" y2="291.4" stroke="#555" stroke-width="0.8"/>
<g font-size="8.6" font-weight="700" fill="#474747" stroke="#474747" stroke-width="0.15" text-anchor="middle"><text x="369.8" y="299.7">Phase 1</text><text x="407.9" y="299.7">Phase 2</text><text x="446.0" y="299.7">Phase 3</text><text x="484.1" y="299.7">Phase 4</text><text x="522.2" y="299.7">Phase 5</text></g>
<g font-size="9.6" fill="#1a1a1a" stroke-width="0.2">
<rect x="393.1" y="311.1" width="10.2" height="10.2" fill="#cc9a36"/><text x="407.5" y="319.1" stroke="#1a1a1a">Mountain</text>
<rect x="457.6" y="311.1" width="10.2" height="10.2" fill="#009b94"/><text x="471" y="319.1" stroke="#1a1a1a">Oasis</text>
</g>
</svg>
</body></html>
